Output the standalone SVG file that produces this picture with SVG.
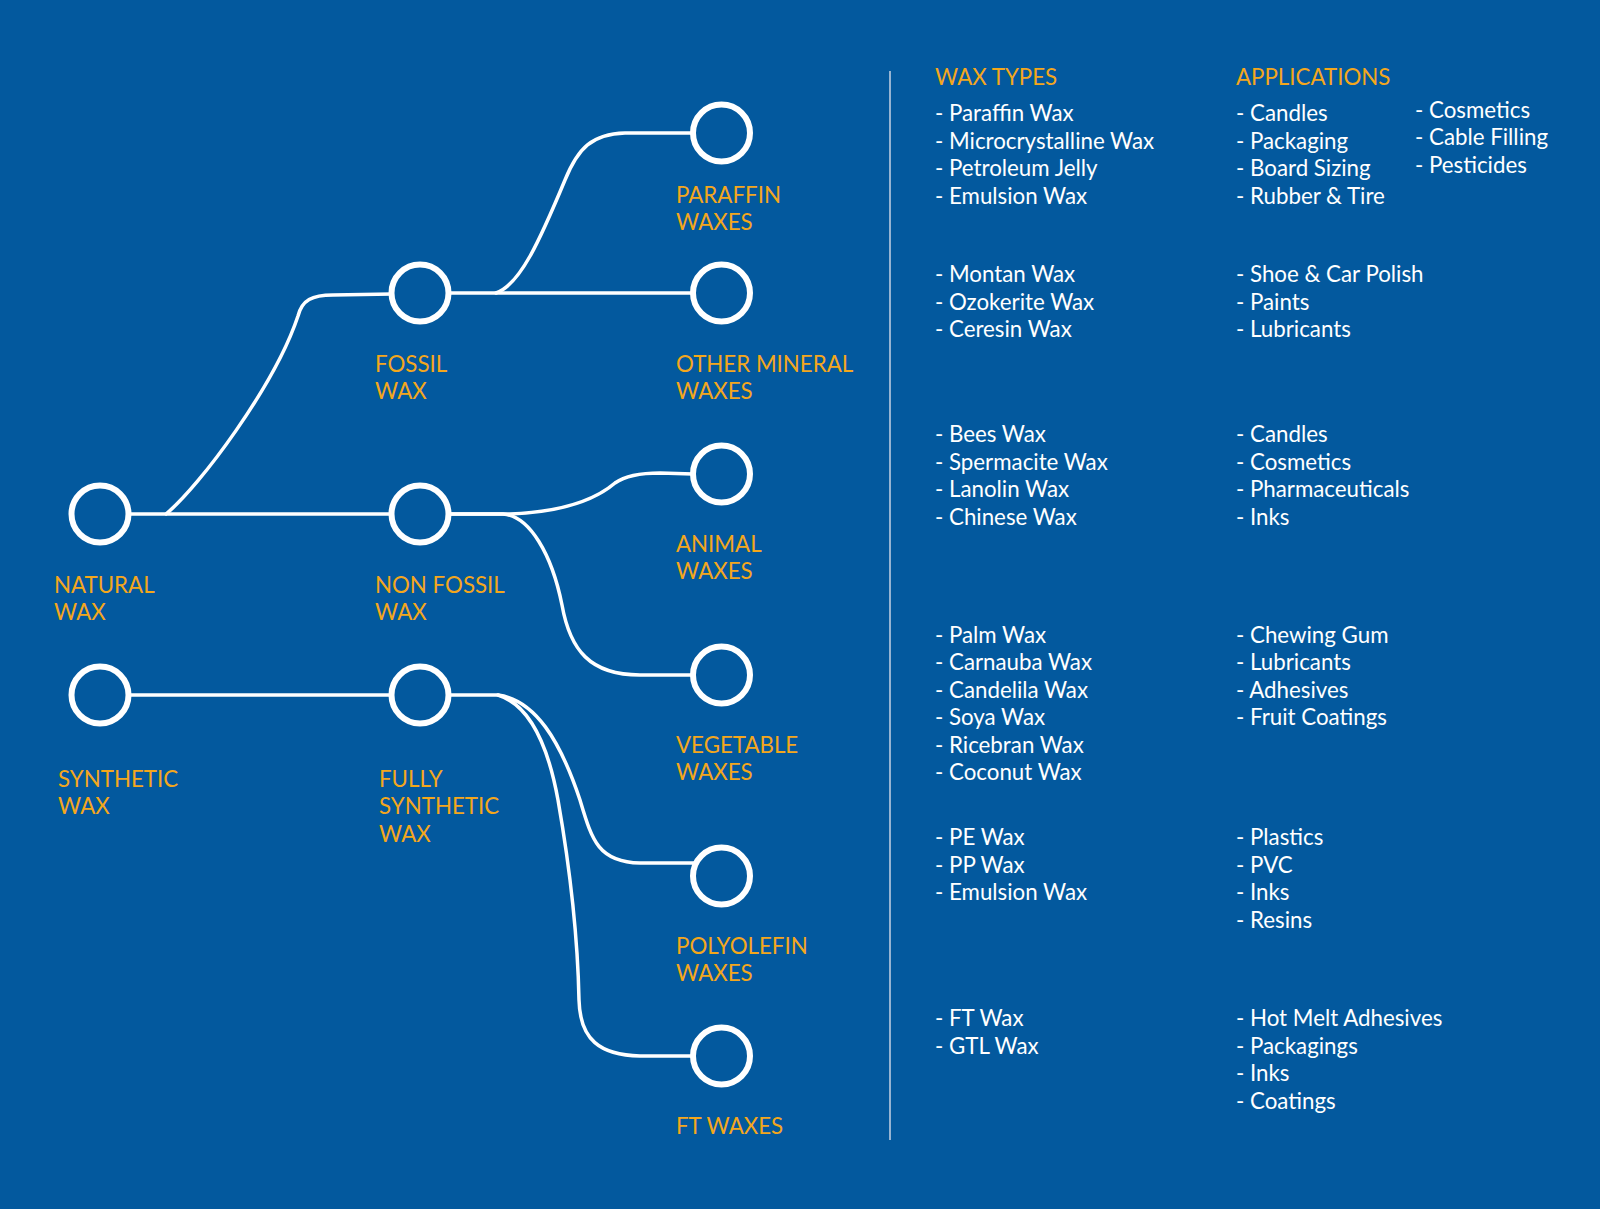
<svg xmlns="http://www.w3.org/2000/svg" width="1600" height="1209" viewBox="0 0 1600 1209">
<style>
.bg{fill:#03599e}
.node{fill:none;stroke:#ffffff;stroke-width:6}
.conn{fill:none;stroke:#ffffff;stroke-width:3.5;stroke-linecap:round;stroke-linejoin:round}
.lbl{font-family:Lato,"Liberation Sans",sans-serif;font-size:22.3px;fill:#f4a71c}
.hd{font-family:Lato,"Liberation Sans",sans-serif;font-size:22.3px;fill:#f4a71c}
.it{font-family:Lato,"Liberation Sans",sans-serif;font-size:22.3px;fill:#ffffff}
.div{stroke:#c9d3e3;stroke-width:1.5}
</style>
<rect class="bg" x="0" y="0" width="1600" height="1209"/>
<g id="connectors">
<path class="conn" d="M128 514 L392 514"/>
<path class="conn" d="M166 514 C200 486 275 385 298 316 C302 300 312 295 333 295 L392 294"/>
<path class="conn" d="M448 293 L693 293"/>
<path class="conn" d="M496 293 C520 285 540 240 565 180 C578 148 592 134 625 133 L693 133"/>
<path class="conn" d="M448 514 L510 514 C560 512 595 500 615 483 C625 476 640 473 660 473 L693 474"/>
<path class="conn" d="M448 514 L503 514 C530 516 552 555 562 605 C570 650 590 675 640 675 L693 675"/>
<path class="conn" d="M128 695 L392 695"/>
<path class="conn" d="M448 695 L498 695 C535 700 560 740 580 800 C592 840 598 862 640 863 L694 863"/>
<path class="conn" d="M498 695 C530 705 548 745 558 800 C572 880 578 950 579 1000 C580 1040 600 1055 640 1056 L693 1056"/>
</g>
<line class="div" x1="890" y1="71" x2="890" y2="1140"/>
<g id="natural-wax"><circle class="node" cx="100" cy="514" r="28.5"/><text class="lbl" x="54" y="593">NATURAL</text><text class="lbl" x="54" y="620">WAX</text></g>
<g id="synthetic-wax"><circle class="node" cx="100" cy="695" r="28.5"/><text class="lbl" x="58" y="787">SYNTHETIC</text><text class="lbl" x="58" y="814">WAX</text></g>
<g id="fossil-wax"><circle class="node" cx="420" cy="293" r="28.5"/><text class="lbl" x="375" y="371.5">FOSSIL</text><text class="lbl" x="375" y="399">WAX</text></g>
<g id="non-fossil-wax"><circle class="node" cx="420" cy="514" r="28.5"/><text class="lbl" x="375" y="593">NON FOSSIL</text><text class="lbl" x="375" y="620">WAX</text></g>
<g id="fully-synthetic-wax"><circle class="node" cx="420" cy="695" r="28.5"/><text class="lbl" x="379" y="787">FULLY</text><text class="lbl" x="379" y="814">SYNTHETIC</text><text class="lbl" x="379" y="842">WAX</text></g>
<g id="paraffin-waxes"><circle class="node" cx="721.5" cy="133" r="28.5"/><text class="lbl" x="676" y="203">PARAFFIN</text><text class="lbl" x="676" y="230">WAXES</text></g>
<g id="other-mineral-waxes"><circle class="node" cx="721.5" cy="293" r="28.5"/><text class="lbl" x="676" y="371.5">OTHER MINERAL</text><text class="lbl" x="676" y="398.5">WAXES</text></g>
<g id="animal-waxes"><circle class="node" cx="721.5" cy="474" r="28.5"/><text class="lbl" x="676" y="552">ANIMAL</text><text class="lbl" x="676" y="579">WAXES</text></g>
<g id="vegetable-waxes"><circle class="node" cx="721.5" cy="675" r="28.5"/><text class="lbl" x="676" y="753">VEGETABLE</text><text class="lbl" x="676" y="780">WAXES</text></g>
<g id="polyolefin-waxes"><circle class="node" cx="721.5" cy="876" r="28.5"/><text class="lbl" x="676" y="954">POLYOLEFIN</text><text class="lbl" x="676" y="981">WAXES</text></g>
<g id="ft-waxes"><circle class="node" cx="721.5" cy="1056" r="28.5"/><text class="lbl" x="676" y="1134">FT WAXES</text></g>
<g id="headers"><text class="hd" x="935" y="85">WAX TYPES</text><text class="hd" x="1236" y="85">APPLICATIONS</text></g>
<g id="paraffin-info">
<text class="it" x="935" y="121">- Paraffin Wax</text><text class="it" x="935" y="148.5">- Microcrystalline Wax</text><text class="it" x="935" y="176">- Petroleum Jelly</text><text class="it" x="935" y="203.5">- Emulsion Wax</text>
<text class="it" x="1236" y="121">- Candles</text><text class="it" x="1236" y="148.5">- Packaging</text><text class="it" x="1236" y="176">- Board Sizing</text><text class="it" x="1236" y="203.5">- Rubber &amp; Tire</text>
<text class="it" x="1415" y="117.5">- Cosmetics</text><text class="it" x="1415" y="145">- Cable Filling</text><text class="it" x="1415" y="172.5">- Pesticides</text>
</g>
<g id="mineral-info">
<text class="it" x="935" y="282">- Montan Wax</text><text class="it" x="935" y="309.5">- Ozokerite Wax</text><text class="it" x="935" y="337">- Ceresin Wax</text>
<text class="it" x="1236" y="282">- Shoe &amp; Car Polish</text><text class="it" x="1236" y="309.5">- Paints</text><text class="it" x="1236" y="337">- Lubricants</text>
</g>
<g id="animal-info">
<text class="it" x="935" y="442">- Bees Wax</text><text class="it" x="935" y="469.5">- Spermacite Wax</text><text class="it" x="935" y="497">- Lanolin Wax</text><text class="it" x="935" y="524.5">- Chinese Wax</text>
<text class="it" x="1236" y="442">- Candles</text><text class="it" x="1236" y="469.5">- Cosmetics</text><text class="it" x="1236" y="497">- Pharmaceuticals</text><text class="it" x="1236" y="524.5">- Inks</text>
</g>
<g id="vegetable-info">
<text class="it" x="935" y="642.5">- Palm Wax</text><text class="it" x="935" y="670">- Carnauba Wax</text><text class="it" x="935" y="697.5">- Candelila Wax</text><text class="it" x="935" y="725">- Soya Wax</text><text class="it" x="935" y="752.5">- Ricebran Wax</text><text class="it" x="935" y="780">- Coconut Wax</text>
<text class="it" x="1236" y="642.5">- Chewing Gum</text><text class="it" x="1236" y="670">- Lubricants</text><text class="it" x="1236" y="697.5">- Adhesives</text><text class="it" x="1236" y="725">- Fruit Coatings</text>
</g>
<g id="polyolefin-info">
<text class="it" x="935" y="845">- PE Wax</text><text class="it" x="935" y="872.5">- PP Wax</text><text class="it" x="935" y="900">- Emulsion Wax</text>
<text class="it" x="1236" y="845">- Plastics</text><text class="it" x="1236" y="872.5">- PVC</text><text class="it" x="1236" y="900">- Inks</text><text class="it" x="1236" y="927.5">- Resins</text>
</g>
<g id="ft-info">
<text class="it" x="935" y="1026">- FT Wax</text><text class="it" x="935" y="1053.5">- GTL Wax</text>
<text class="it" x="1236" y="1026">- Hot Melt Adhesives</text><text class="it" x="1236" y="1053.5">- Packagings</text><text class="it" x="1236" y="1081">- Inks</text><text class="it" x="1236" y="1108.5">- Coatings</text>
</g>
</svg>
